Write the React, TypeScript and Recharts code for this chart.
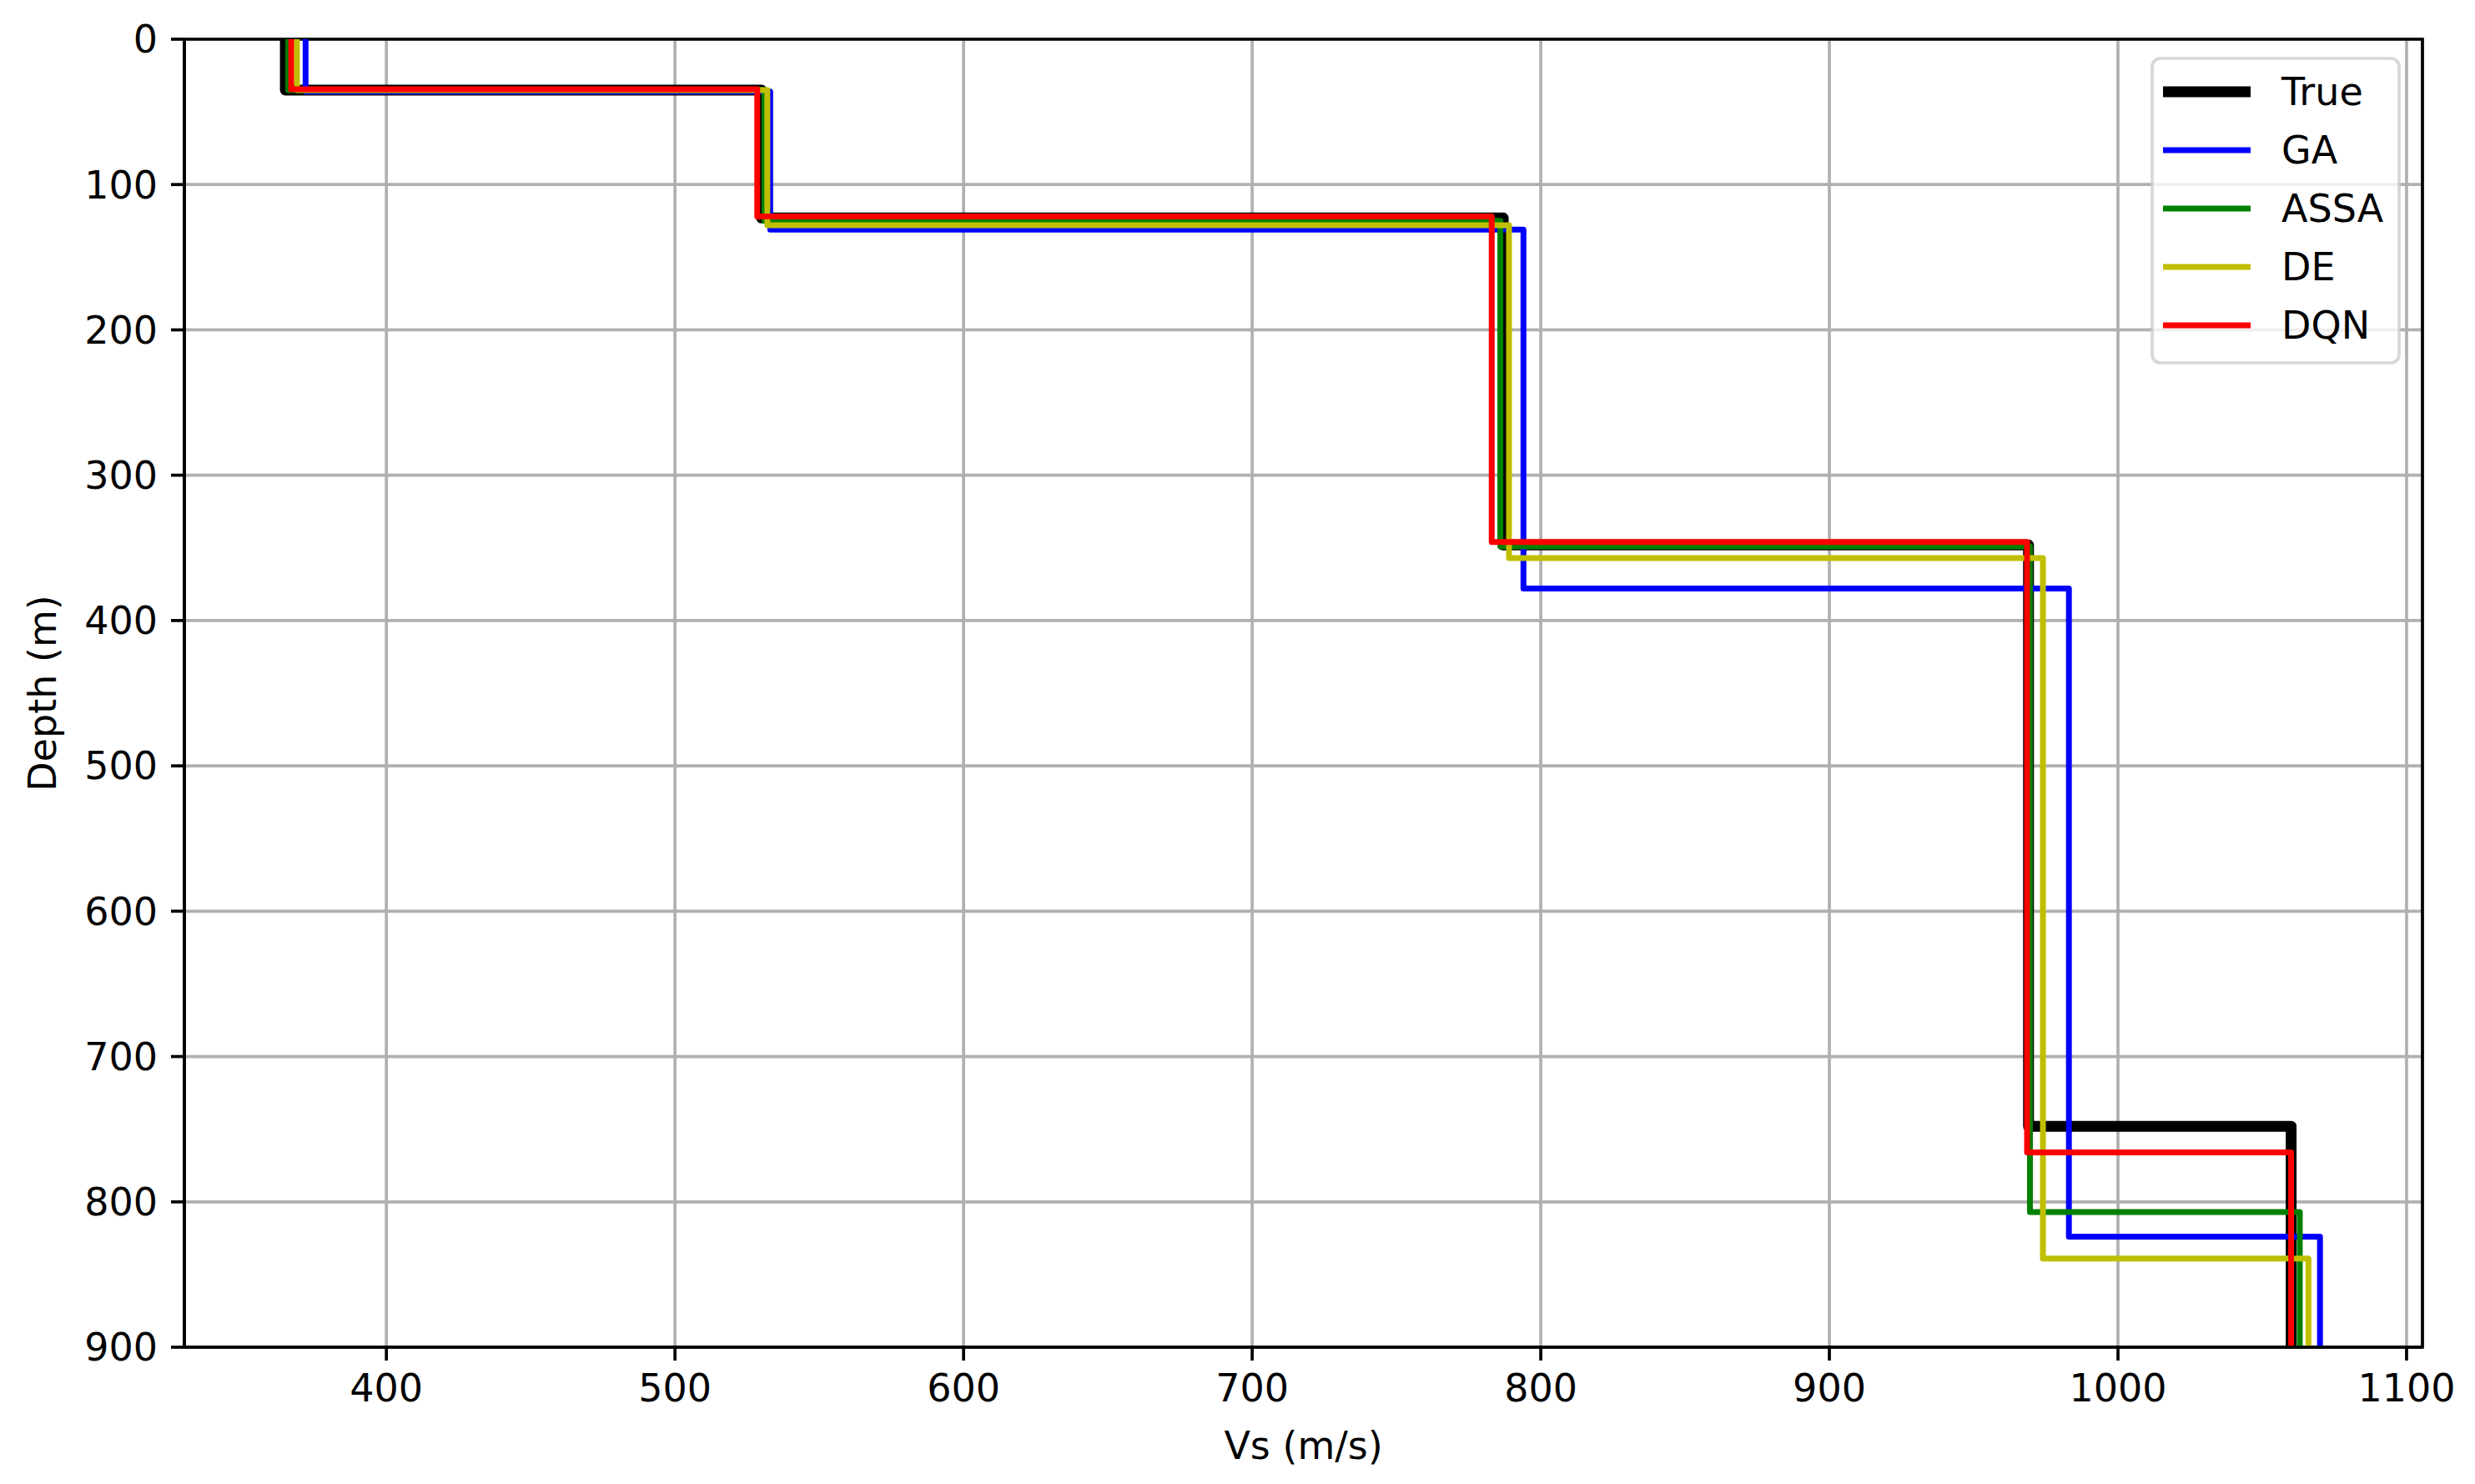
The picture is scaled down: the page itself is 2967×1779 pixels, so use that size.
import React from "react";
import {
  LineChart,
  Line,
  XAxis,
  YAxis,
  CartesianGrid,
  ReferenceArea,
} from "recharts";

// layer velocities (m/s) and layer boundaries (m)
const trueVs = [365, 530, 787, 969, 1060];
const trueDepth = [35, 123, 348, 748];
const gaVs = [372, 533, 794, 983, 1070];
const gaDepth = [36, 131, 378, 824];
const assaVs = [366, 531, 786, 969.5, 1063];
const assaDepth = [35, 125, 349, 807];
const deVs = [369, 532, 789, 974, 1066];
const deDepth = [35, 128, 357, 839];
const dqnVs = [367, 528.5, 783, 968.5, 1060];
const dqnDepth = [34.5, 122, 346, 766];

const vsTicks = [400, 500, 600, 700, 800, 900, 1000, 1100];
const depthTicks = [0, 100, 200, 300, 400, 500, 600, 700, 800, 900];
const maxDepth = 900;

const FONT = "DejaVu Sans";
const LW = 3.7;

// turn layer values into a step profile
function stepProfile(vs: number[], bounds: number[]) {
  const pts = [{ v: vs[0], d: 0 }];
  bounds.forEach((b, i) => {
    pts.push({ v: vs[i], d: b });
    pts.push({ v: vs[i + 1], d: b });
  });
  pts.push({ v: vs[vs.length - 1], d: maxDepth });
  return pts;
}

const series = [
  { name: "True", data: stepProfile(trueVs, trueDepth), color: "#000000", width: 13 },
  { name: "GA", data: stepProfile(gaVs, gaDepth), color: "#0000ff", width: 7 },
  { name: "ASSA", data: stepProfile(assaVs, assaDepth), color: "#008000", width: 7 },
  { name: "DE", data: stepProfile(deVs, deDepth), color: "#bfbf00", width: 7 },
  { name: "DQN", data: stepProfile(dqnVs, dqnDepth), color: "#ff0000", width: 7 },
];

const tickStyle = { fill: "#000", fontSize: 46, fontFamily: FONT };

const LegendBox = () => (
  <svg
    width={300}
    height={370}
    style={{ position: "absolute", left: 2578, top: 68 }}
  >
    <rect
      x={2}
      y={2}
      width={296}
      height={365}
      rx={10}
      fill="rgba(255,255,255,0.8)"
      stroke="rgba(204,204,204,0.8)"
      strokeWidth={LW}
    />
    {series.map((s, i) => {
      const y = 42 + i * 70;
      return (
        <g key={s.name}>
          <line x1={15} x2={120} y1={y} y2={y} stroke={s.color} strokeWidth={s.width} />
          <text
            x={157}
            y={y}
            dominantBaseline="central"
            fontSize={46}
            fontFamily={FONT}
            fill="#000"
          >
            {s.name}
          </text>
        </g>
      );
    })}
  </svg>
);

export default function App() {
  return (
    <div
      style={{
        position: "absolute",
        left: 0,
        top: 0,
        width: 2967,
        height: 1779,
        background: "#fff",
        fontFamily: FONT,
      }}
    >
      <LineChart width={2967} height={1779} margin={{ top: 47, right: 63, bottom: 54, left: 0 }}>
        <CartesianGrid stroke="#b0b0b0" strokeWidth={LW} />
        <XAxis
          type="number"
          dataKey="v"
          domain={[330, 1105.5]}
          ticks={vsTicks}
          allowDataOverflow
          height={110}
          tickSize={16}
          tickMargin={16}
          tick={tickStyle}
          axisLine={{ stroke: "#000", strokeWidth: LW }}
          tickLine={{ stroke: "#000", strokeWidth: LW }}
          label={{
            content: ({ viewBox }: any) => (
              <text
                x={viewBox.x + viewBox.width / 2}
                y={viewBox.y + 118}
                textAnchor="middle"
                dominantBaseline="central"
                fontSize={46}
                fontFamily={FONT}
                fill="#000"
              >
                Vs (m/s)
              </text>
            ),
          }}
        />
        <YAxis
          type="number"
          domain={[0, maxDepth]}
          reversed
          ticks={depthTicks}
          allowDataOverflow
          width={221}
          tickSize={16}
          tickMargin={16}
          tick={tickStyle}
          axisLine={{ stroke: "#000", strokeWidth: LW }}
          tickLine={{ stroke: "#000", strokeWidth: LW }}
          label={{
            content: ({ viewBox }: any) => {
              const cy = viewBox.y + viewBox.height / 2;
              return (
                <text
                  x={51}
                  y={cy}
                  transform={`rotate(-90, 51, ${cy})`}
                  textAnchor="middle"
                  dominantBaseline="central"
                  fontSize={46}
                  fontFamily={FONT}
                  fill="#000"
                >
                  Depth (m)
                </text>
              );
            },
          }}
        />
        {series.map((s) => (
          <Line
            key={s.name}
            name={s.name}
            data={s.data}
            dataKey="d"
            type="linear"
            stroke={s.color}
            strokeWidth={s.width}
            strokeLinejoin="round"
            dot={false}
            activeDot={false}
            isAnimationActive={false}
          />
        ))}
        <ReferenceArea
          x1={330}
          x2={1105.5}
          y1={0}
          y2={maxDepth}
          fill="none"
          fillOpacity={0}
          stroke="#000"
          strokeWidth={LW}
          ifOverflow="visible"
        />
      </LineChart>
      <LegendBox />
    </div>
  );
}
